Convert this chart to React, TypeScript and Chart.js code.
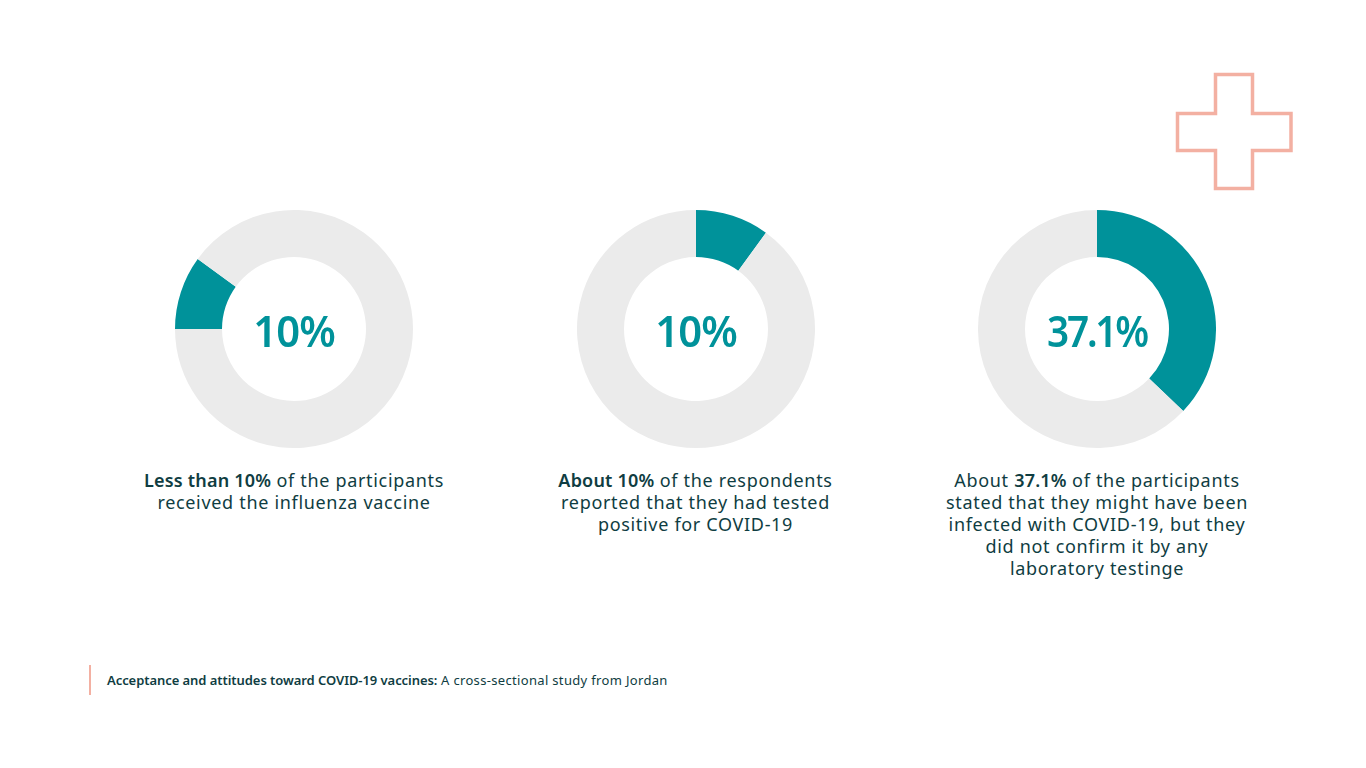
import { useEffect, useRef } from "react"
import { Chart, DoughnutController, ArcElement } from "chart.js"

Chart.register(DoughnutController, ArcElement)

const TEAL = "#00929a"
const GREY = "#ebebeb"
const INK = "#0f3d42"
const SALMON = "#f3b0a2"
const FONT = '"Noto Sans", sans-serif'

const sliceLabels = ["Share", "Rest"]
const influenzaValues = [10, 90]
const testedValues = [10, 90]
const infectedValues = [37.1, 62.9]
const centreLabels = ["10%", "10%", "37.1%"]

function Donut({ values, rotation }: { values: number[]; rotation: number }) {
  const canvasRef = useRef<HTMLCanvasElement | null>(null)

  useEffect(() => {
    if (!canvasRef.current) return
    const chart = new Chart(canvasRef.current, {
      type: "doughnut",
      data: {
        labels: sliceLabels,
        datasets: [
          {
            data: values,
            backgroundColor: [TEAL, GREY],
            borderWidth: 0,
          },
        ],
      },
      options: {
        responsive: false,
        animation: false,
        cutout: "60.5%",
        rotation,
        plugins: { legend: { display: false }, tooltip: { enabled: false } },
      },
    })
    return () => chart.destroy()
  }, [values, rotation])

  return <canvas ref={canvasRef} width={238} height={238} style={{ display: "block" }} />
}

function Column(props: {
  left: number
  values: number[]
  rotation: number
  label: string
  labelSpacing: number
  labelScale: number
  before?: string
  lead: string
  lines: string[]
}) {
  const { left, values, rotation, label, labelSpacing, labelScale, before, lead, lines } = props
  const centre = left + 119
  return (
    <>
      <div style={{ position: "absolute", left, top: 210 }}>
        <Donut values={values} rotation={rotation} />
      </div>
      <div
        style={{
          position: "absolute",
          left,
          top: 211,
          width: 238,
          height: 238,
          lineHeight: "238px",
          textAlign: "center",
          color: TEAL,
          fontFamily: FONT,
          fontWeight: 600,
          fontSize: 44,
          letterSpacing: labelSpacing,
          transform: `scaleX(${labelScale})`,
        }}
      >
        {label}
      </div>
      <div
        style={{
          position: "absolute",
          left: centre - 200,
          top: 469,
          width: 400,
          textAlign: "center",
          color: INK,
          fontFamily: FONT,
          fontSize: 18,
          letterSpacing: 0.68,
          lineHeight: "22px",
        }}
      >
        {lines.map((line, i) => (
          <div key={i}>
            {i === 0 ? before : null}
            {i === 0 ? <b style={{ fontWeight: 600, letterSpacing: 0.2 }}>{lead}</b> : null}
            {line}
          </div>
        ))}
      </div>
    </>
  )
}

export default function App() {
  useEffect(() => {
    document.body.style.margin = "0"
  }, [])

  return (
    <div style={{ position: "relative", width: 1366, height: 768, background: "#fff", overflow: "hidden" }}>
      <svg width={1366} height={768} style={{ position: "absolute", left: 0, top: 0 }}>
        <polygon
          points="1215.5,74.5 1252.5,74.5 1252.5,113.5 1291,113.5 1291,150.5 1252.5,150.5 1252.5,188.5 1215.5,188.5 1215.5,150.5 1177.5,150.5 1177.5,113.5 1215.5,113.5"
          fill="none"
          stroke={SALMON}
          strokeWidth={3.5}
        />
        <rect x={89} y={665} width={2} height={30} fill={SALMON} />
      </svg>
      <Column
        left={175}
        values={influenzaValues}
        rotation={270}
        label={centreLabels[0]}
        labelSpacing={-1}
        labelScale={0.95}
        lead="Less than 10%"
        lines={[" of the participants", "received the influenza vaccine"]}
      />
      <Column
        left={576.5}
        values={testedValues}
        rotation={0}
        label={centreLabels[1]}
        labelSpacing={-1}
        labelScale={0.95}
        lead="About 10%"
        lines={[" of the respondents", "reported that they had tested", "positive for COVID-19"]}
      />
      <Column
        left={978}
        values={infectedValues}
        rotation={0}
        label={centreLabels[2]}
        labelSpacing={-2.5}
        labelScale={0.88}
        before="About "
        lead="37.1%"
        lines={[
          " of the participants",
          "stated that they might have been",
          "infected with COVID-19, but they",
          "did not confirm it by any",
          "laboratory testinge",
        ]}
      />
      <div
        style={{
          position: "absolute",
          left: 107,
          top: 670,
          color: INK,
          fontFamily: FONT,
          fontSize: 13,
          letterSpacing: 0.33,
          lineHeight: "20px",
          whiteSpace: "nowrap",
        }}
      >
        <b style={{ fontWeight: 600, letterSpacing: -0.06 }}>Acceptance and attitudes toward COVID-19 vaccines:</b> A cross-sectional study from Jordan
      </div>
    </div>
  )
}
